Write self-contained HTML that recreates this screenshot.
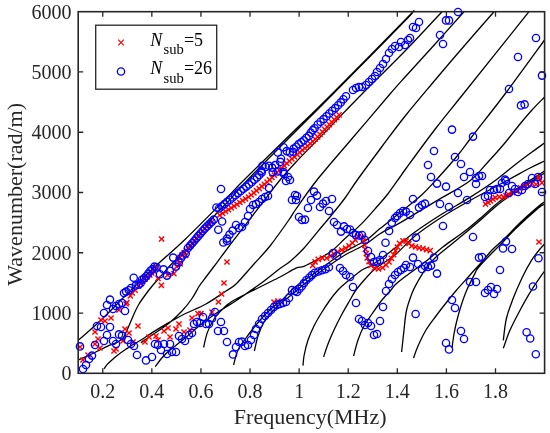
<!DOCTYPE html>
<html><head><meta charset="utf-8"><style>
html,body{margin:0;padding:0;background:#fff;}
svg{display:block;}
.tl{font-family:"Liberation Serif",serif;font-size:20px;fill:#262626;}
.lg{font-family:"Liberation Serif",serif;font-size:18px;fill:#000;}
</style></head><body>
<svg width="550" height="433" viewBox="0 0 550 433">
<rect x="78.2" y="11.7" width="466.40" height="361.60" fill="#fff" stroke="none"/>
<path d="M78.5,340.0C82.1,336.8 91.4,329.2 100.0,321.0C108.6,312.8 120.2,300.7 130.0,291.0C139.8,281.3 149.8,271.6 159.0,263.0C168.2,254.4 173.2,250.8 185.0,239.5C196.8,228.2 219.7,204.9 229.5,195.0C239.3,185.1 232.9,191.0 244.0,180.0C255.1,169.0 281.3,143.3 296.0,129.0C310.7,114.7 313.7,112.3 332.0,94.0C350.3,75.7 392.6,32.7 406.0,19.0C419.4,5.3 411.6,12.9 412.7,11.7M78.5,360.0C81.5,358.6 92.0,353.8 96.8,351.5C101.6,349.2 103.7,347.9 107.2,346.3C110.7,344.7 114.9,343.6 117.6,342.1C120.3,340.6 121.8,339.9 123.5,337.5C125.2,335.1 126.2,331.9 128.0,328.0C129.8,324.1 132.2,318.0 134.0,314.0C135.8,310.0 137.2,307.0 139.0,304.0C140.8,301.0 142.2,299.2 144.5,296.0C146.8,292.8 150.3,288.2 153.0,285.0C155.7,281.8 158.1,279.2 160.5,276.5C162.9,273.8 165.2,271.0 167.5,268.5C169.8,266.0 170.8,264.5 174.0,261.5C177.2,258.5 182.7,254.9 187.0,250.5C191.3,246.1 195.4,240.8 200.0,235.0C204.6,229.2 209.6,221.4 214.6,215.5C219.6,209.6 224.6,205.4 230.0,199.6C235.4,193.8 236.0,191.9 247.0,180.5C258.0,169.1 281.8,145.2 296.0,131.0C310.2,116.8 319.7,107.4 332.0,95.0C344.3,82.6 357.7,69.0 370.0,56.5C382.3,44.0 398.8,27.3 406.0,19.8C413.2,12.3 412.0,13.0 413.2,11.7M140.8,342.8C142.7,341.5 147.6,338.2 152.2,335.0C156.8,331.8 163.3,327.7 168.3,323.7C173.3,319.7 178.1,315.2 182.0,311.0C185.9,306.8 189.1,302.7 192.0,298.5C194.9,294.3 197.0,289.6 199.3,286.0C201.6,282.4 203.5,280.3 206.0,277.0C208.5,273.7 211.3,270.0 214.3,266.0C217.3,262.0 220.8,257.2 224.0,253.0C227.2,248.8 227.3,248.4 233.3,240.6C239.3,232.8 252.2,216.1 260.0,206.0C267.8,195.9 274.0,187.3 280.0,180.0C286.0,172.7 287.7,170.8 296.0,162.0C304.3,153.2 319.0,138.3 330.0,127.0C341.0,115.7 349.3,106.8 362.0,94.0C374.7,81.2 392.7,63.7 406.0,50.0C419.3,36.3 436.0,18.1 442.0,11.7M103.9,368.9C104.5,368.1 106.0,365.7 107.7,363.9C109.4,362.1 112.0,359.9 114.1,358.1C116.2,356.3 118.3,354.6 120.4,353.0C122.5,351.4 124.7,350.0 126.8,348.6C128.9,347.2 131.6,345.4 133.1,344.5C134.6,343.6 134.0,344.2 136.0,343.0C138.0,341.8 142.3,339.2 145.0,337.5C147.7,335.8 148.3,335.0 152.2,332.6C156.1,330.2 162.9,326.0 168.3,322.9C173.7,319.8 178.2,317.1 184.5,314.0C190.8,310.9 199.1,307.8 206.0,304.0C212.9,300.2 221.0,294.3 226.0,291.0C231.0,287.7 231.3,288.5 236.0,284.0C240.7,279.5 248.3,270.3 254.0,264.0C259.7,257.7 264.2,253.3 270.0,246.0C275.8,238.7 284.5,226.2 288.8,220.0C293.1,213.8 291.3,215.7 296.0,209.0C300.7,202.3 308.0,191.3 317.0,180.0C326.0,168.7 337.8,155.3 350.0,141.0C362.2,126.7 380.7,104.8 390.0,94.0C399.3,83.2 398.3,84.5 406.0,76.0C413.7,67.5 426.3,53.7 436.0,43.0C445.7,32.3 459.3,16.9 464.0,11.7M155.2,366.6C156.4,365.1 160.0,360.1 162.3,357.5C164.6,354.9 166.6,352.9 168.8,351.0C171.0,349.1 173.2,347.6 175.3,345.9C177.5,344.2 179.5,342.4 181.7,340.7C183.8,339.0 185.1,338.1 188.2,335.5C191.2,332.9 195.0,329.1 200.0,325.2C205.0,321.3 212.0,316.1 218.0,312.0C224.0,307.9 229.0,305.4 236.0,300.7C243.0,296.0 253.0,289.1 260.0,284.0C267.0,278.9 273.0,273.8 278.0,270.0C283.0,266.2 285.7,265.0 290.0,261.4C294.3,257.8 299.3,253.3 303.9,248.3C308.5,243.3 313.1,237.2 317.7,231.6C322.3,226.0 327.1,220.6 331.6,215.0C336.2,209.4 340.6,204.0 345.0,198.0C349.4,192.0 351.8,187.6 358.0,179.0C364.2,170.4 374.0,157.2 382.0,146.5C390.0,135.8 397.0,126.2 406.0,115.0C415.0,103.8 426.2,90.7 436.0,79.0C445.8,67.3 455.3,56.2 465.0,45.0C474.7,33.8 489.2,17.2 494.0,11.7M203.6,347.5C204.2,345.0 205.6,337.3 207.3,332.6C209.0,327.9 211.6,323.1 213.8,319.5C216.0,315.9 217.4,314.3 220.4,311.3C223.4,308.3 225.2,305.6 231.8,301.5C238.4,297.4 252.0,291.1 260.0,287.0C268.0,282.9 274.0,280.1 280.0,277.0C286.0,273.9 292.0,270.0 296.0,268.2C300.0,266.4 300.3,267.8 303.9,266.3C307.5,264.8 313.1,261.9 317.7,259.3C322.3,256.8 327.1,254.4 331.6,251.0C336.2,247.6 340.1,243.1 345.0,238.6C349.9,234.1 355.8,229.5 361.2,224.1C366.6,218.7 372.9,211.3 377.3,206.3C381.7,201.3 384.0,198.9 387.8,194.0C391.6,189.1 397.0,181.2 400.0,177.0C403.0,172.8 400.0,176.7 406.0,168.5C412.0,160.3 426.3,140.6 436.0,128.0C445.7,115.4 448.5,112.4 464.0,93.0C479.5,73.6 518.2,25.2 529.0,11.7M233.6,365.0C234.3,362.5 235.9,354.5 238.0,350.0C240.1,345.5 243.7,341.3 246.0,338.0C248.3,334.7 249.3,333.3 252.0,330.0C254.7,326.7 258.7,321.7 262.0,318.0C265.3,314.3 268.7,311.0 272.0,308.0C275.3,305.0 278.3,303.3 282.0,300.0C285.7,296.7 289.0,292.2 294.0,288.0C299.0,283.8 306.0,279.3 312.0,275.0C318.0,270.7 324.5,265.9 330.0,262.0C335.5,258.1 339.0,255.2 345.0,251.6C351.0,248.0 360.2,244.1 366.0,240.3C371.8,236.5 374.2,233.3 380.0,228.6C385.8,223.9 393.9,217.6 400.8,212.0C407.7,206.4 415.6,200.5 421.6,195.0C427.6,189.5 430.9,185.7 437.0,179.0C443.1,172.3 452.2,162.1 458.0,155.0C463.8,147.9 464.2,146.7 472.0,136.5C479.8,126.3 492.9,110.1 505.0,94.0C517.1,77.9 538.0,49.0 544.6,40.0M254.4,351.0C255.0,348.5 256.4,340.8 258.0,336.0C259.6,331.2 261.7,326.0 264.0,322.0C266.3,318.0 269.3,315.0 272.0,312.0C274.7,309.0 277.0,306.7 280.0,304.0C283.0,301.3 285.3,299.8 290.0,296.0C294.7,292.2 301.3,286.2 308.0,281.0C314.7,275.8 323.8,269.3 330.0,265.0C336.2,260.7 339.0,258.5 345.0,255.0C351.0,251.5 360.2,247.5 366.0,244.0C371.8,240.5 374.2,237.4 380.0,233.8C385.8,230.2 393.9,226.4 400.8,222.4C407.7,218.4 414.7,214.1 421.6,209.9C428.5,205.7 434.3,202.2 442.4,197.4C450.5,192.6 462.4,186.7 470.0,180.8C477.6,174.9 482.3,168.1 488.0,162.0C493.7,155.9 498.7,150.3 504.0,144.0C509.3,137.7 515.3,129.7 520.0,124.0C524.7,118.3 527.9,114.5 532.0,110.0C536.1,105.5 542.5,99.2 544.6,97.0M303.0,365.6C303.2,364.0 303.2,360.3 304.0,356.0C304.8,351.7 306.3,345.0 308.0,340.0C309.7,335.0 311.7,330.7 314.0,326.0C316.3,321.3 319.3,316.3 322.0,312.0C324.7,307.7 327.3,303.7 330.0,300.0C332.7,296.3 335.0,293.2 338.0,290.0C341.0,286.8 344.0,284.3 348.0,281.0C352.0,277.7 358.0,272.7 362.0,270.0C366.0,267.3 367.3,268.0 372.0,265.0C376.7,262.0 382.8,257.5 390.0,252.0C397.2,246.5 406.3,238.3 415.0,232.0C423.7,225.7 432.8,219.8 442.0,214.0C451.2,208.2 461.0,203.1 470.0,197.4C479.0,191.7 488.3,185.6 496.0,180.0C503.7,174.4 510.0,168.7 516.0,164.0C522.0,159.3 527.2,155.5 532.0,152.0C536.8,148.5 542.5,144.5 544.6,143.0M323.6,357.0C324.3,354.8 326.3,348.5 328.0,344.0C329.7,339.5 331.7,335.0 334.0,330.0C336.3,325.0 339.3,319.0 342.0,314.0C344.7,309.0 347.7,304.0 350.0,300.0C352.3,296.0 353.3,293.7 356.0,290.0C358.7,286.3 362.7,281.7 366.0,278.0C369.3,274.3 371.2,271.8 376.0,268.0C380.8,264.2 388.5,260.3 395.0,255.0C401.5,249.7 407.2,242.3 415.0,236.0C422.8,229.7 432.8,222.9 442.0,217.0C451.2,211.1 459.0,206.7 470.0,200.5C481.0,194.3 498.0,185.4 508.0,180.0C518.0,174.6 523.9,171.2 530.0,168.0C536.1,164.8 542.2,162.2 544.6,161.0M353.6,356.0C354.3,353.3 356.3,345.0 358.0,340.0C359.7,335.0 361.7,330.3 364.0,326.0C366.3,321.7 369.0,318.3 372.0,314.0C375.0,309.7 378.8,304.0 382.0,300.0C385.2,296.0 388.7,292.7 391.0,290.0C393.3,287.3 393.5,286.3 396.0,284.0C398.5,281.7 400.8,279.9 406.0,276.0C411.2,272.1 420.9,265.3 427.0,260.5C433.1,255.7 436.7,251.8 442.8,247.0C448.9,242.2 457.7,236.6 463.9,231.8C470.1,227.1 474.0,223.6 480.0,218.5C486.0,213.4 493.3,206.2 500.0,201.0C506.7,195.8 512.6,192.0 520.0,187.0C527.4,182.0 540.5,173.7 544.6,171.0M401.6,352.0C402.0,348.3 403.2,337.0 404.0,330.0C404.8,323.0 405.2,316.2 406.6,310.0C408.0,303.8 410.4,297.5 412.2,292.8C414.0,288.1 415.8,285.1 417.7,281.7C419.6,278.3 421.8,274.9 423.3,272.5C424.9,270.1 425.1,269.4 427.0,267.0C428.9,264.6 432.0,260.9 435.0,258.0C438.0,255.1 440.2,253.5 445.0,249.5C449.8,245.5 458.1,238.8 463.9,234.0C469.7,229.2 474.0,225.7 480.0,220.5C486.0,215.3 493.3,208.2 500.0,203.0C506.7,197.8 512.6,194.0 520.0,189.0C527.4,184.0 540.5,175.7 544.6,173.0M413.6,358.0C414.3,356.0 415.9,350.7 418.0,346.0C420.1,341.3 423.0,335.0 426.0,330.0C429.0,325.0 432.7,320.5 436.0,316.0C439.3,311.5 442.6,307.3 446.0,303.0C449.4,298.7 452.6,294.7 456.6,290.0C460.6,285.3 466.1,279.4 470.0,275.0C473.9,270.6 476.3,268.1 480.0,263.9C483.7,259.7 488.1,254.1 492.0,250.0C495.9,245.9 498.7,244.2 503.7,239.3C508.7,234.4 516.0,226.6 522.2,220.8C528.4,215.0 537.0,207.7 540.7,204.6C544.4,201.5 544.0,202.4 544.6,202.0M452.0,348.0C452.3,345.7 453.2,338.7 454.0,334.0C454.8,329.3 455.8,324.7 457.0,320.0C458.2,315.3 459.4,311.0 461.0,306.0C462.6,301.0 464.4,295.5 466.8,290.0C469.2,284.5 473.2,276.8 475.1,273.1C477.0,269.4 475.5,271.0 478.0,268.0C480.5,265.0 485.8,259.3 490.0,255.0C494.2,250.7 498.8,246.3 503.0,242.0C507.2,237.7 509.4,234.7 515.3,229.0C521.2,223.3 533.5,212.2 538.4,208.0C543.3,203.8 543.6,204.7 544.6,204.0M503.3,340.4C503.8,336.8 504.8,325.3 506.4,318.5C508.0,311.7 510.1,306.4 512.7,299.6C515.3,292.8 519.0,284.2 522.1,277.7C525.2,271.2 528.4,265.4 531.5,260.4C534.6,255.4 538.8,250.5 541.0,247.8C543.2,245.1 544.0,244.6 544.6,244.0M503.3,348.3C504.4,345.4 507.0,337.0 509.6,331.0C512.2,325.0 515.4,319.0 519.0,312.2C522.6,305.4 527.2,297.1 531.5,290.2C535.8,283.3 542.4,274.2 544.6,271.0" fill="none" stroke="#000" stroke-width="1.3" stroke-linejoin="round"/>
<path d="M175.4,257.4L180.6,262.6M175.4,262.6L180.6,257.4" stroke="#f00" stroke-width="1.45" fill="none"/>
<path d="M177.5,255.0L182.7,260.2M177.5,260.2L182.7,255.0" stroke="#f00" stroke-width="1.45" fill="none"/>
<path d="M179.5,252.5L184.7,257.7M179.5,257.7L184.7,252.5" stroke="#f00" stroke-width="1.45" fill="none"/>
<path d="M181.6,250.1L186.8,255.3M181.6,255.3L186.8,250.1" stroke="#f00" stroke-width="1.45" fill="none"/>
<path d="M183.7,247.7L188.9,252.9M183.7,252.9L188.9,247.7" stroke="#f00" stroke-width="1.45" fill="none"/>
<path d="M185.8,245.2L191.0,250.4M185.8,250.4L191.0,245.2" stroke="#f00" stroke-width="1.45" fill="none"/>
<path d="M187.8,242.8L193.0,248.0M187.8,248.0L193.0,242.8" stroke="#f00" stroke-width="1.45" fill="none"/>
<path d="M189.9,240.3L195.1,245.5M189.9,245.5L195.1,240.3" stroke="#f00" stroke-width="1.45" fill="none"/>
<path d="M192.0,237.9L197.2,243.1M192.0,243.1L197.2,237.9" stroke="#f00" stroke-width="1.45" fill="none"/>
<path d="M194.1,235.5L199.3,240.7M194.1,240.7L199.3,235.5" stroke="#f00" stroke-width="1.45" fill="none"/>
<path d="M196.1,233.0L201.3,238.2M196.1,238.2L201.3,233.0" stroke="#f00" stroke-width="1.45" fill="none"/>
<path d="M198.2,230.6L203.4,235.8M198.2,235.8L203.4,230.6" stroke="#f00" stroke-width="1.45" fill="none"/>
<path d="M200.3,228.2L205.5,233.4M200.3,233.4L205.5,228.2" stroke="#f00" stroke-width="1.45" fill="none"/>
<path d="M202.4,225.7L207.6,230.9M202.4,230.9L207.6,225.7" stroke="#f00" stroke-width="1.45" fill="none"/>
<path d="M204.7,223.6L209.9,228.8M204.7,228.8L209.9,223.6" stroke="#f00" stroke-width="1.45" fill="none"/>
<path d="M207.1,221.4L212.3,226.6M207.1,226.6L212.3,221.4" stroke="#f00" stroke-width="1.45" fill="none"/>
<path d="M209.5,219.3L214.7,224.5M209.5,224.5L214.7,219.3" stroke="#f00" stroke-width="1.45" fill="none"/>
<path d="M217.1,212.5L222.3,217.7M217.1,217.7L222.3,212.5" stroke="#f00" stroke-width="1.45" fill="none"/>
<path d="M220.0,210.7L225.2,215.9M220.0,215.9L225.2,210.7" stroke="#f00" stroke-width="1.45" fill="none"/>
<path d="M222.9,208.9L228.1,214.1M222.9,214.1L228.1,208.9" stroke="#f00" stroke-width="1.45" fill="none"/>
<path d="M225.8,207.1L231.0,212.3M225.8,212.3L231.0,207.1" stroke="#f00" stroke-width="1.45" fill="none"/>
<path d="M228.6,205.3L233.8,210.5M228.6,210.5L233.8,205.3" stroke="#f00" stroke-width="1.45" fill="none"/>
<path d="M231.5,203.5L236.7,208.7M231.5,208.7L236.7,203.5" stroke="#f00" stroke-width="1.45" fill="none"/>
<path d="M234.4,201.7L239.6,206.9M234.4,206.9L239.6,201.7" stroke="#f00" stroke-width="1.45" fill="none"/>
<path d="M237.3,199.9L242.5,205.1M237.3,205.1L242.5,199.9" stroke="#f00" stroke-width="1.45" fill="none"/>
<path d="M240.1,198.0L245.3,203.2M240.1,203.2L245.3,198.0" stroke="#f00" stroke-width="1.45" fill="none"/>
<path d="M243.0,196.2L248.2,201.4M243.0,201.4L248.2,196.2" stroke="#f00" stroke-width="1.45" fill="none"/>
<path d="M245.9,194.4L251.1,199.6M245.9,199.6L251.1,194.4" stroke="#f00" stroke-width="1.45" fill="none"/>
<path d="M248.6,192.4L253.8,197.6M248.6,197.6L253.8,192.4" stroke="#f00" stroke-width="1.45" fill="none"/>
<path d="M251.3,190.3L256.5,195.5M251.3,195.5L256.5,190.3" stroke="#f00" stroke-width="1.45" fill="none"/>
<path d="M253.9,188.1L259.1,193.3M253.9,193.3L259.1,188.1" stroke="#f00" stroke-width="1.45" fill="none"/>
<path d="M256.6,186.0L261.8,191.2M256.6,191.2L261.8,186.0" stroke="#f00" stroke-width="1.45" fill="none"/>
<path d="M259.2,183.8L264.4,189.0M259.2,189.0L264.4,183.8" stroke="#f00" stroke-width="1.45" fill="none"/>
<path d="M261.8,181.7L267.0,186.9M261.8,186.9L267.0,181.7" stroke="#f00" stroke-width="1.45" fill="none"/>
<path d="M264.5,179.6L269.7,184.8M264.5,184.8L269.7,179.6" stroke="#f00" stroke-width="1.45" fill="none"/>
<path d="M267.0,177.3L272.2,182.5M267.0,182.5L272.2,177.3" stroke="#f00" stroke-width="1.45" fill="none"/>
<path d="M269.4,174.9L274.6,180.1M269.4,180.1L274.6,174.9" stroke="#f00" stroke-width="1.45" fill="none"/>
<path d="M271.8,172.5L277.0,177.7M271.8,177.7L277.0,172.5" stroke="#f00" stroke-width="1.45" fill="none"/>
<path d="M274.2,170.1L279.4,175.3M274.2,175.3L279.4,170.1" stroke="#f00" stroke-width="1.45" fill="none"/>
<path d="M276.7,167.8L281.9,173.0M276.7,173.0L281.9,167.8" stroke="#f00" stroke-width="1.45" fill="none"/>
<path d="M279.2,165.4L284.4,170.6M279.2,170.6L284.4,165.4" stroke="#f00" stroke-width="1.45" fill="none"/>
<path d="M281.7,163.1L286.9,168.3M281.7,168.3L286.9,163.1" stroke="#f00" stroke-width="1.45" fill="none"/>
<path d="M284.2,160.8L289.4,166.0M284.2,166.0L289.4,160.8" stroke="#f00" stroke-width="1.45" fill="none"/>
<path d="M286.7,158.6L291.9,163.8M286.7,163.8L291.9,158.6" stroke="#f00" stroke-width="1.45" fill="none"/>
<path d="M289.3,156.3L294.5,161.5M289.3,161.5L294.5,156.3" stroke="#f00" stroke-width="1.45" fill="none"/>
<path d="M291.9,154.2L297.1,159.4M291.9,159.4L297.1,154.2" stroke="#f00" stroke-width="1.45" fill="none"/>
<path d="M294.6,152.1L299.8,157.3M294.6,157.3L299.8,152.1" stroke="#f00" stroke-width="1.45" fill="none"/>
<path d="M297.1,149.8L302.3,155.0M297.1,155.0L302.3,149.8" stroke="#f00" stroke-width="1.45" fill="none"/>
<path d="M299.7,147.6L304.9,152.8M299.7,152.8L304.9,147.6" stroke="#f00" stroke-width="1.45" fill="none"/>
<path d="M302.4,145.6L307.6,150.8M302.4,150.8L307.6,145.6" stroke="#f00" stroke-width="1.45" fill="none"/>
<path d="M305.1,143.5L310.3,148.7M305.1,148.7L310.3,143.5" stroke="#f00" stroke-width="1.45" fill="none"/>
<path d="M307.6,141.1L312.8,146.3M307.6,146.3L312.8,141.1" stroke="#f00" stroke-width="1.45" fill="none"/>
<path d="M310.1,138.8L315.3,144.0M310.1,144.0L315.3,138.8" stroke="#f00" stroke-width="1.45" fill="none"/>
<path d="M312.6,136.5L317.8,141.7M312.6,141.7L317.8,136.5" stroke="#f00" stroke-width="1.45" fill="none"/>
<path d="M315.1,134.2L320.3,139.4M315.1,139.4L320.3,134.2" stroke="#f00" stroke-width="1.45" fill="none"/>
<path d="M317.4,131.8L322.6,137.0M317.4,137.0L322.6,131.8" stroke="#f00" stroke-width="1.45" fill="none"/>
<path d="M319.8,129.3L325.0,134.5M319.8,134.5L325.0,129.3" stroke="#f00" stroke-width="1.45" fill="none"/>
<path d="M322.1,126.8L327.3,132.0M322.1,132.0L327.3,126.8" stroke="#f00" stroke-width="1.45" fill="none"/>
<path d="M324.5,124.4L329.7,129.6M324.5,129.6L329.7,124.4" stroke="#f00" stroke-width="1.45" fill="none"/>
<path d="M326.8,122.0L332.0,127.2M326.8,127.2L332.0,122.0" stroke="#f00" stroke-width="1.45" fill="none"/>
<path d="M329.2,119.6L334.4,124.8M329.2,124.8L334.4,119.6" stroke="#f00" stroke-width="1.45" fill="none"/>
<path d="M331.7,117.1L336.9,122.3M331.7,122.3L336.9,117.1" stroke="#f00" stroke-width="1.45" fill="none"/>
<path d="M334.1,114.7L339.3,119.9M334.1,119.9L339.3,114.7" stroke="#f00" stroke-width="1.45" fill="none"/>
<path d="M336.5,112.3L341.7,117.5M336.5,117.5L341.7,112.3" stroke="#f00" stroke-width="1.45" fill="none"/>
<path d="M77.4,344.4L82.6,349.6M77.4,349.6L82.6,344.4" stroke="#f00" stroke-width="1.45" fill="none"/>
<path d="M80.4,357.4L85.6,362.6M80.4,362.6L85.6,357.4" stroke="#f00" stroke-width="1.45" fill="none"/>
<path d="M85.4,352.4L90.6,357.6M85.4,357.6L90.6,352.4" stroke="#f00" stroke-width="1.45" fill="none"/>
<path d="M92.4,329.4L97.6,334.6M92.4,334.6L97.6,329.4" stroke="#f00" stroke-width="1.45" fill="none"/>
<path d="M95.4,336.4L100.6,341.6M95.4,341.6L100.6,336.4" stroke="#f00" stroke-width="1.45" fill="none"/>
<path d="M98.4,317.4L103.6,322.6M98.4,322.6L103.6,317.4" stroke="#f00" stroke-width="1.45" fill="none"/>
<path d="M102.4,318.4L107.6,323.6M102.4,323.6L107.6,318.4" stroke="#f00" stroke-width="1.45" fill="none"/>
<path d="M108.4,315.4L113.6,320.6M108.4,320.6L113.6,315.4" stroke="#f00" stroke-width="1.45" fill="none"/>
<path d="M116.4,307.4L121.6,312.6M116.4,312.6L121.6,307.4" stroke="#f00" stroke-width="1.45" fill="none"/>
<path d="M123.4,301.4L128.6,306.6M123.4,306.6L128.6,301.4" stroke="#f00" stroke-width="1.45" fill="none"/>
<path d="M92.4,341.4L97.6,346.6M92.4,346.6L97.6,341.4" stroke="#f00" stroke-width="1.45" fill="none"/>
<path d="M97.4,345.4L102.6,350.6M97.4,350.6L102.6,345.4" stroke="#f00" stroke-width="1.45" fill="none"/>
<path d="M111.4,348.4L116.6,353.6M111.4,353.6L116.6,348.4" stroke="#f00" stroke-width="1.45" fill="none"/>
<path d="M113.4,346.4L118.6,351.6M113.4,351.6L118.6,346.4" stroke="#f00" stroke-width="1.45" fill="none"/>
<path d="M122.4,326.4L127.6,331.6M122.4,331.6L127.6,326.4" stroke="#f00" stroke-width="1.45" fill="none"/>
<path d="M126.4,330.4L131.6,335.6M126.4,335.6L131.6,330.4" stroke="#f00" stroke-width="1.45" fill="none"/>
<path d="M120.4,338.4L125.6,343.6M120.4,343.6L125.6,338.4" stroke="#f00" stroke-width="1.45" fill="none"/>
<path d="M130.4,339.4L135.6,344.6M130.4,344.6L135.6,339.4" stroke="#f00" stroke-width="1.45" fill="none"/>
<path d="M135.4,323.4L140.6,328.6M135.4,328.6L140.6,323.4" stroke="#f00" stroke-width="1.45" fill="none"/>
<path d="M142.4,339.4L147.6,344.6M142.4,344.6L147.6,339.4" stroke="#f00" stroke-width="1.45" fill="none"/>
<path d="M146.4,334.4L151.6,339.6M146.4,339.6L151.6,334.4" stroke="#f00" stroke-width="1.45" fill="none"/>
<path d="M153.4,333.4L158.6,338.6M153.4,338.6L158.6,333.4" stroke="#f00" stroke-width="1.45" fill="none"/>
<path d="M161.4,328.4L166.6,333.6M161.4,333.6L166.6,328.4" stroke="#f00" stroke-width="1.45" fill="none"/>
<path d="M165.4,325.4L170.6,330.6M165.4,330.6L170.6,325.4" stroke="#f00" stroke-width="1.45" fill="none"/>
<path d="M167.4,334.4L172.6,339.6M167.4,339.6L172.6,334.4" stroke="#f00" stroke-width="1.45" fill="none"/>
<path d="M173.4,326.4L178.6,331.6M173.4,331.6L178.6,326.4" stroke="#f00" stroke-width="1.45" fill="none"/>
<path d="M176.4,321.4L181.6,326.6M176.4,326.6L181.6,321.4" stroke="#f00" stroke-width="1.45" fill="none"/>
<path d="M181.4,329.4L186.6,334.6M181.4,334.6L186.6,329.4" stroke="#f00" stroke-width="1.45" fill="none"/>
<path d="M155.4,337.4L160.6,342.6M155.4,342.6L160.6,337.4" stroke="#f00" stroke-width="1.45" fill="none"/>
<path d="M124.2,300.1L129.4,305.3M124.2,305.3L129.4,300.1" stroke="#f00" stroke-width="1.45" fill="none"/>
<path d="M127.7,293.2L132.9,298.4M127.7,298.4L132.9,293.2" stroke="#f00" stroke-width="1.45" fill="none"/>
<path d="M129.7,290.4L134.9,295.6M129.7,295.6L134.9,290.4" stroke="#f00" stroke-width="1.45" fill="none"/>
<path d="M132.5,287.6L137.7,292.8M132.5,292.8L137.7,287.6" stroke="#f00" stroke-width="1.45" fill="none"/>
<path d="M136.0,283.4L141.2,288.6M136.0,288.6L141.2,283.4" stroke="#f00" stroke-width="1.45" fill="none"/>
<path d="M138.0,280.7L143.2,285.9M138.0,285.9L143.2,280.7" stroke="#f00" stroke-width="1.45" fill="none"/>
<path d="M140.1,278.6L145.3,283.8M140.1,283.8L145.3,278.6" stroke="#f00" stroke-width="1.45" fill="none"/>
<path d="M142.2,276.5L147.4,281.7M142.2,281.7L147.4,276.5" stroke="#f00" stroke-width="1.45" fill="none"/>
<path d="M144.3,274.4L149.5,279.6M144.3,279.6L149.5,274.4" stroke="#f00" stroke-width="1.45" fill="none"/>
<path d="M147.1,272.4L152.3,277.6M147.1,277.6L152.3,272.4" stroke="#f00" stroke-width="1.45" fill="none"/>
<path d="M149.1,270.3L154.3,275.5M149.1,275.5L154.3,270.3" stroke="#f00" stroke-width="1.45" fill="none"/>
<path d="M151.2,268.2L156.4,273.4M151.2,273.4L156.4,268.2" stroke="#f00" stroke-width="1.45" fill="none"/>
<path d="M154.0,264.7L159.2,269.9M154.0,269.9L159.2,264.7" stroke="#f00" stroke-width="1.45" fill="none"/>
<path d="M155.4,275.8L160.6,281.0M155.4,281.0L160.6,275.8" stroke="#f00" stroke-width="1.45" fill="none"/>
<path d="M158.8,282.8L164.0,288.0M158.8,288.0L164.0,282.8" stroke="#f00" stroke-width="1.45" fill="none"/>
<path d="M165.1,272.4L170.3,277.6M165.1,277.6L170.3,272.4" stroke="#f00" stroke-width="1.45" fill="none"/>
<path d="M171.3,271.0L176.5,276.2M171.3,276.2L176.5,271.0" stroke="#f00" stroke-width="1.45" fill="none"/>
<path d="M174.1,264.0L179.3,269.2M174.1,269.2L179.3,264.0" stroke="#f00" stroke-width="1.45" fill="none"/>
<path d="M177.6,261.3L182.8,266.5M177.6,266.5L182.8,261.3" stroke="#f00" stroke-width="1.45" fill="none"/>
<path d="M183.1,252.9L188.3,258.1M183.1,258.1L188.3,252.9" stroke="#f00" stroke-width="1.45" fill="none"/>
<path d="M221.4,280.4L226.6,285.6M221.4,285.6L226.6,280.4" stroke="#f00" stroke-width="1.45" fill="none"/>
<path d="M219.0,291.4L224.2,296.6M219.0,296.6L224.2,291.4" stroke="#f00" stroke-width="1.45" fill="none"/>
<path d="M215.8,299.4L221.0,304.6M215.8,304.6L221.0,299.4" stroke="#f00" stroke-width="1.45" fill="none"/>
<path d="M195.4,311.0L200.6,316.2M195.4,316.2L200.6,311.0" stroke="#f00" stroke-width="1.45" fill="none"/>
<path d="M198.4,311.0L203.6,316.2M198.4,316.2L203.6,311.0" stroke="#f00" stroke-width="1.45" fill="none"/>
<path d="M189.4,315.4L194.6,320.6M189.4,320.6L194.6,315.4" stroke="#f00" stroke-width="1.45" fill="none"/>
<path d="M209.4,309.4L214.6,314.6M209.4,314.6L214.6,309.4" stroke="#f00" stroke-width="1.45" fill="none"/>
<path d="M187.4,327.4L192.6,332.6M187.4,332.6L192.6,327.4" stroke="#f00" stroke-width="1.45" fill="none"/>
<path d="M271.4,299.4L276.6,304.6M271.4,304.6L276.6,299.4" stroke="#f00" stroke-width="1.45" fill="none"/>
<path d="M275.4,298.4L280.6,303.6M275.4,303.6L280.6,298.4" stroke="#f00" stroke-width="1.45" fill="none"/>
<path d="M224.4,259.4L229.6,264.6M224.4,264.6L229.6,259.4" stroke="#f00" stroke-width="1.45" fill="none"/>
<path d="M159.0,236.4L164.2,241.6M159.0,241.6L164.2,236.4" stroke="#f00" stroke-width="1.45" fill="none"/>
<path d="M310.1,262.9L315.3,268.1M310.1,268.1L315.3,262.9" stroke="#f00" stroke-width="1.45" fill="none"/>
<path d="M312.5,259.3L317.7,264.5M312.5,264.5L317.7,259.3" stroke="#f00" stroke-width="1.45" fill="none"/>
<path d="M315.7,256.8L320.9,262.0M315.7,262.0L320.9,256.8" stroke="#f00" stroke-width="1.45" fill="none"/>
<path d="M319.8,255.6L325.0,260.8M319.8,260.8L325.0,255.6" stroke="#f00" stroke-width="1.45" fill="none"/>
<path d="M324.1,255.6L329.3,260.8M324.1,260.8L329.3,255.6" stroke="#f00" stroke-width="1.45" fill="none"/>
<path d="M327.8,253.6L333.0,258.8M327.8,258.8L333.0,253.6" stroke="#f00" stroke-width="1.45" fill="none"/>
<path d="M331.4,251.3L336.6,256.5M331.4,256.5L336.6,251.3" stroke="#f00" stroke-width="1.45" fill="none"/>
<path d="M335.2,249.3L340.4,254.5M335.2,254.5L340.4,249.3" stroke="#f00" stroke-width="1.45" fill="none"/>
<path d="M339.1,247.4L344.3,252.6M339.1,252.6L344.3,247.4" stroke="#f00" stroke-width="1.45" fill="none"/>
<path d="M343.0,245.6L348.2,250.8M343.0,250.8L348.2,245.6" stroke="#f00" stroke-width="1.45" fill="none"/>
<path d="M346.5,243.2L351.7,248.4M346.5,248.4L351.7,243.2" stroke="#f00" stroke-width="1.45" fill="none"/>
<path d="M349.8,240.4L355.0,245.6M349.8,245.6L355.0,240.4" stroke="#f00" stroke-width="1.45" fill="none"/>
<path d="M352.6,237.2L357.8,242.4M352.6,242.4L357.8,237.2" stroke="#f00" stroke-width="1.45" fill="none"/>
<path d="M355.5,233.9L360.7,239.1M355.5,239.1L360.7,233.9" stroke="#f00" stroke-width="1.45" fill="none"/>
<path d="M359.6,234.6L364.8,239.8M359.6,239.8L364.8,234.6" stroke="#f00" stroke-width="1.45" fill="none"/>
<path d="M361.2,238.4L366.4,243.6M361.2,243.6L366.4,238.4" stroke="#f00" stroke-width="1.45" fill="none"/>
<path d="M362.1,242.6L367.3,247.8M362.1,247.8L367.3,242.6" stroke="#f00" stroke-width="1.45" fill="none"/>
<path d="M362.8,246.8L368.0,252.0M362.8,252.0L368.0,246.8" stroke="#f00" stroke-width="1.45" fill="none"/>
<path d="M363.7,251.0L368.9,256.2M363.7,256.2L368.9,251.0" stroke="#f00" stroke-width="1.45" fill="none"/>
<path d="M364.6,255.2L369.8,260.4M364.6,260.4L369.8,255.2" stroke="#f00" stroke-width="1.45" fill="none"/>
<path d="M366.4,259.1L371.6,264.3M366.4,264.3L371.6,259.1" stroke="#f00" stroke-width="1.45" fill="none"/>
<path d="M368.3,262.9L373.5,268.1M368.3,268.1L373.5,262.9" stroke="#f00" stroke-width="1.45" fill="none"/>
<path d="M371.8,265.5L377.0,270.7M371.8,270.7L377.0,265.5" stroke="#f00" stroke-width="1.45" fill="none"/>
<path d="M375.9,266.4L381.1,271.6M375.9,271.6L381.1,266.4" stroke="#f00" stroke-width="1.45" fill="none"/>
<path d="M380.0,265.0L385.2,270.2M380.0,270.2L385.2,265.0" stroke="#f00" stroke-width="1.45" fill="none"/>
<path d="M383.4,262.4L388.6,267.6M383.4,267.6L388.6,262.4" stroke="#f00" stroke-width="1.45" fill="none"/>
<path d="M386.4,259.3L391.6,264.5M386.4,264.5L391.6,259.3" stroke="#f00" stroke-width="1.45" fill="none"/>
<path d="M388.8,255.8L394.0,261.0M388.8,261.0L394.0,255.8" stroke="#f00" stroke-width="1.45" fill="none"/>
<path d="M391.0,252.1L396.2,257.3M391.0,257.3L396.2,252.1" stroke="#f00" stroke-width="1.45" fill="none"/>
<path d="M392.9,248.3L398.1,253.5M392.9,253.5L398.1,248.3" stroke="#f00" stroke-width="1.45" fill="none"/>
<path d="M394.8,244.4L400.0,249.6M394.8,249.6L400.0,244.4" stroke="#f00" stroke-width="1.45" fill="none"/>
<path d="M396.9,240.7L402.1,245.9M396.9,245.9L402.1,240.7" stroke="#f00" stroke-width="1.45" fill="none"/>
<path d="M400.4,238.2L405.6,243.4M400.4,243.4L405.6,238.2" stroke="#f00" stroke-width="1.45" fill="none"/>
<path d="M403.4,238.4L408.6,243.6M403.4,243.6L408.6,238.4" stroke="#f00" stroke-width="1.45" fill="none"/>
<path d="M406.3,240.9L411.5,246.1M406.3,246.1L411.5,240.9" stroke="#f00" stroke-width="1.45" fill="none"/>
<path d="M409.2,243.3L414.4,248.5M409.2,248.5L414.4,243.3" stroke="#f00" stroke-width="1.45" fill="none"/>
<path d="M412.9,244.3L418.1,249.5M412.9,249.5L418.1,244.3" stroke="#f00" stroke-width="1.45" fill="none"/>
<path d="M416.6,245.2L421.8,250.4M416.6,250.4L421.8,245.2" stroke="#f00" stroke-width="1.45" fill="none"/>
<path d="M420.3,246.1L425.5,251.3M420.3,251.3L425.5,246.1" stroke="#f00" stroke-width="1.45" fill="none"/>
<path d="M423.9,247.0L429.1,252.2M423.9,252.2L429.1,247.0" stroke="#f00" stroke-width="1.45" fill="none"/>
<path d="M427.6,248.1L432.8,253.3M427.6,253.3L432.8,248.1" stroke="#f00" stroke-width="1.45" fill="none"/>
<path d="M482.9,201.6L488.1,206.8M482.9,206.8L488.1,201.6" stroke="#f00" stroke-width="1.45" fill="none"/>
<path d="M485.4,199.9L490.6,205.1M485.4,205.1L490.6,199.9" stroke="#f00" stroke-width="1.45" fill="none"/>
<path d="M487.8,198.3L493.0,203.5M487.8,203.5L493.0,198.3" stroke="#f00" stroke-width="1.45" fill="none"/>
<path d="M490.4,196.6L495.6,201.8M490.4,201.8L495.6,196.6" stroke="#f00" stroke-width="1.45" fill="none"/>
<path d="M492.7,195.0L497.9,200.2M492.7,200.2L497.9,195.0" stroke="#f00" stroke-width="1.45" fill="none"/>
<path d="M496.8,194.2L502.0,199.4M496.8,199.4L502.0,194.2" stroke="#f00" stroke-width="1.45" fill="none"/>
<path d="M500.9,194.2L506.1,199.4M500.9,199.4L506.1,194.2" stroke="#f00" stroke-width="1.45" fill="none"/>
<path d="M503.4,192.9L508.6,198.1M503.4,198.1L508.6,192.9" stroke="#f00" stroke-width="1.45" fill="none"/>
<path d="M505.8,191.8L511.0,197.0M505.8,197.0L511.0,191.8" stroke="#f00" stroke-width="1.45" fill="none"/>
<path d="M509.9,190.1L515.1,195.3M509.9,195.3L515.1,190.1" stroke="#f00" stroke-width="1.45" fill="none"/>
<path d="M514.0,188.5L519.2,193.7M514.0,193.7L519.2,188.5" stroke="#f00" stroke-width="1.45" fill="none"/>
<path d="M518.0,185.2L523.2,190.4M518.0,190.4L523.2,185.2" stroke="#f00" stroke-width="1.45" fill="none"/>
<path d="M522.1,183.6L527.3,188.8M522.1,188.8L527.3,183.6" stroke="#f00" stroke-width="1.45" fill="none"/>
<path d="M525.4,181.9L530.6,187.1M525.4,187.1L530.6,181.9" stroke="#f00" stroke-width="1.45" fill="none"/>
<path d="M529.5,181.1L534.7,186.3M529.5,186.3L534.7,181.1" stroke="#f00" stroke-width="1.45" fill="none"/>
<path d="M533.6,181.9L538.8,187.1M533.6,187.1L538.8,181.9" stroke="#f00" stroke-width="1.45" fill="none"/>
<path d="M536.9,177.0L542.1,182.2M536.9,182.2L542.1,177.0" stroke="#f00" stroke-width="1.45" fill="none"/>
<path d="M539.3,180.3L544.5,185.5M539.3,185.5L544.5,180.3" stroke="#f00" stroke-width="1.45" fill="none"/>
<path d="M536.4,239.4L541.6,244.6M536.4,244.6L541.6,239.4" stroke="#f00" stroke-width="1.45" fill="none"/>
<path d="M536.4,175.0L541.6,180.2M536.4,180.2L541.6,175.0" stroke="#f00" stroke-width="1.45" fill="none"/>
<circle cx="188.0" cy="248.0" r="3.65" stroke="#00f" stroke-width="1.35" fill="none"/>
<circle cx="190.1" cy="245.6" r="3.65" stroke="#00f" stroke-width="1.35" fill="none"/>
<circle cx="192.2" cy="243.2" r="3.65" stroke="#00f" stroke-width="1.35" fill="none"/>
<circle cx="194.3" cy="240.7" r="3.65" stroke="#00f" stroke-width="1.35" fill="none"/>
<circle cx="196.4" cy="238.3" r="3.65" stroke="#00f" stroke-width="1.35" fill="none"/>
<circle cx="198.4" cy="235.9" r="3.65" stroke="#00f" stroke-width="1.35" fill="none"/>
<circle cx="200.5" cy="233.5" r="3.65" stroke="#00f" stroke-width="1.35" fill="none"/>
<circle cx="202.6" cy="231.0" r="3.65" stroke="#00f" stroke-width="1.35" fill="none"/>
<circle cx="204.7" cy="228.6" r="3.65" stroke="#00f" stroke-width="1.35" fill="none"/>
<circle cx="207.0" cy="226.4" r="3.65" stroke="#00f" stroke-width="1.35" fill="none"/>
<circle cx="209.3" cy="224.1" r="3.65" stroke="#00f" stroke-width="1.35" fill="none"/>
<circle cx="211.6" cy="221.9" r="3.65" stroke="#00f" stroke-width="1.35" fill="none"/>
<circle cx="213.8" cy="219.6" r="3.65" stroke="#00f" stroke-width="1.35" fill="none"/>
<circle cx="216.4" cy="207.5" r="3.65" stroke="#00f" stroke-width="1.35" fill="none"/>
<circle cx="218.3" cy="229.8" r="3.65" stroke="#00f" stroke-width="1.35" fill="none"/>
<circle cx="222.1" cy="221.5" r="3.65" stroke="#00f" stroke-width="1.35" fill="none"/>
<circle cx="223.3" cy="242.5" r="3.65" stroke="#00f" stroke-width="1.35" fill="none"/>
<circle cx="219.0" cy="208.5" r="3.65" stroke="#00f" stroke-width="1.35" fill="none"/>
<circle cx="221.7" cy="206.3" r="3.65" stroke="#00f" stroke-width="1.35" fill="none"/>
<circle cx="224.4" cy="204.1" r="3.65" stroke="#00f" stroke-width="1.35" fill="none"/>
<circle cx="227.1" cy="201.9" r="3.65" stroke="#00f" stroke-width="1.35" fill="none"/>
<circle cx="229.9" cy="199.7" r="3.65" stroke="#00f" stroke-width="1.35" fill="none"/>
<circle cx="232.6" cy="197.5" r="3.65" stroke="#00f" stroke-width="1.35" fill="none"/>
<circle cx="235.3" cy="195.3" r="3.65" stroke="#00f" stroke-width="1.35" fill="none"/>
<circle cx="238.0" cy="193.1" r="3.65" stroke="#00f" stroke-width="1.35" fill="none"/>
<circle cx="240.8" cy="190.9" r="3.65" stroke="#00f" stroke-width="1.35" fill="none"/>
<circle cx="243.5" cy="188.7" r="3.65" stroke="#00f" stroke-width="1.35" fill="none"/>
<circle cx="246.3" cy="186.6" r="3.65" stroke="#00f" stroke-width="1.35" fill="none"/>
<circle cx="249.0" cy="184.4" r="3.65" stroke="#00f" stroke-width="1.35" fill="none"/>
<circle cx="251.7" cy="182.2" r="3.65" stroke="#00f" stroke-width="1.35" fill="none"/>
<circle cx="254.3" cy="179.8" r="3.65" stroke="#00f" stroke-width="1.35" fill="none"/>
<circle cx="257.0" cy="177.5" r="3.65" stroke="#00f" stroke-width="1.35" fill="none"/>
<circle cx="259.3" cy="174.9" r="3.65" stroke="#00f" stroke-width="1.35" fill="none"/>
<circle cx="261.7" cy="172.4" r="3.65" stroke="#00f" stroke-width="1.35" fill="none"/>
<circle cx="262.5" cy="165.7" r="3.65" stroke="#00f" stroke-width="1.35" fill="none"/>
<circle cx="265.7" cy="167.0" r="3.65" stroke="#00f" stroke-width="1.35" fill="none"/>
<circle cx="268.9" cy="165.7" r="3.65" stroke="#00f" stroke-width="1.35" fill="none"/>
<circle cx="272.1" cy="167.6" r="3.65" stroke="#00f" stroke-width="1.35" fill="none"/>
<circle cx="275.2" cy="165.1" r="3.65" stroke="#00f" stroke-width="1.35" fill="none"/>
<circle cx="277.8" cy="152.4" r="3.65" stroke="#00f" stroke-width="1.35" fill="none"/>
<circle cx="280.3" cy="161.9" r="3.65" stroke="#00f" stroke-width="1.35" fill="none"/>
<circle cx="281.0" cy="158.7" r="3.65" stroke="#00f" stroke-width="1.35" fill="none"/>
<circle cx="283.5" cy="147.3" r="3.65" stroke="#00f" stroke-width="1.35" fill="none"/>
<circle cx="286.7" cy="151.1" r="3.65" stroke="#00f" stroke-width="1.35" fill="none"/>
<circle cx="289.8" cy="152.4" r="3.65" stroke="#00f" stroke-width="1.35" fill="none"/>
<circle cx="293.0" cy="151.8" r="3.65" stroke="#00f" stroke-width="1.35" fill="none"/>
<circle cx="293.7" cy="148.6" r="3.65" stroke="#00f" stroke-width="1.35" fill="none"/>
<circle cx="296.2" cy="146.7" r="3.65" stroke="#00f" stroke-width="1.35" fill="none"/>
<circle cx="298.7" cy="144.1" r="3.65" stroke="#00f" stroke-width="1.35" fill="none"/>
<circle cx="301.3" cy="142.2" r="3.65" stroke="#00f" stroke-width="1.35" fill="none"/>
<circle cx="303.8" cy="140.3" r="3.65" stroke="#00f" stroke-width="1.35" fill="none"/>
<circle cx="306.4" cy="137.8" r="3.65" stroke="#00f" stroke-width="1.35" fill="none"/>
<circle cx="308.9" cy="135.9" r="3.65" stroke="#00f" stroke-width="1.35" fill="none"/>
<circle cx="310.8" cy="132.7" r="3.65" stroke="#00f" stroke-width="1.35" fill="none"/>
<circle cx="312.7" cy="130.2" r="3.65" stroke="#00f" stroke-width="1.35" fill="none"/>
<circle cx="314.6" cy="128.3" r="3.65" stroke="#00f" stroke-width="1.35" fill="none"/>
<circle cx="261.3" cy="170.8" r="3.65" stroke="#00f" stroke-width="1.35" fill="none"/>
<circle cx="272.7" cy="172.1" r="3.65" stroke="#00f" stroke-width="1.35" fill="none"/>
<circle cx="277.8" cy="171.4" r="3.65" stroke="#00f" stroke-width="1.35" fill="none"/>
<circle cx="283.5" cy="172.1" r="3.65" stroke="#00f" stroke-width="1.35" fill="none"/>
<circle cx="317.7" cy="124.5" r="3.65" stroke="#00f" stroke-width="1.35" fill="none"/>
<circle cx="320.6" cy="121.8" r="3.65" stroke="#00f" stroke-width="1.35" fill="none"/>
<circle cx="323.6" cy="119.1" r="3.65" stroke="#00f" stroke-width="1.35" fill="none"/>
<circle cx="326.5" cy="116.3" r="3.65" stroke="#00f" stroke-width="1.35" fill="none"/>
<circle cx="329.3" cy="113.5" r="3.65" stroke="#00f" stroke-width="1.35" fill="none"/>
<circle cx="332.2" cy="110.8" r="3.65" stroke="#00f" stroke-width="1.35" fill="none"/>
<circle cx="335.2" cy="108.1" r="3.65" stroke="#00f" stroke-width="1.35" fill="none"/>
<circle cx="338.1" cy="105.3" r="3.65" stroke="#00f" stroke-width="1.35" fill="none"/>
<circle cx="340.8" cy="102.4" r="3.65" stroke="#00f" stroke-width="1.35" fill="none"/>
<circle cx="343.4" cy="99.3" r="3.65" stroke="#00f" stroke-width="1.35" fill="none"/>
<circle cx="346.0" cy="96.3" r="3.65" stroke="#00f" stroke-width="1.35" fill="none"/>
<circle cx="353.0" cy="90.0" r="3.65" stroke="#00f" stroke-width="1.35" fill="none"/>
<circle cx="356.0" cy="88.0" r="3.65" stroke="#00f" stroke-width="1.35" fill="none"/>
<circle cx="359.0" cy="87.0" r="3.65" stroke="#00f" stroke-width="1.35" fill="none"/>
<circle cx="362.0" cy="87.0" r="3.65" stroke="#00f" stroke-width="1.35" fill="none"/>
<circle cx="366.0" cy="85.0" r="3.65" stroke="#00f" stroke-width="1.35" fill="none"/>
<circle cx="369.0" cy="82.0" r="3.65" stroke="#00f" stroke-width="1.35" fill="none"/>
<circle cx="372.0" cy="79.0" r="3.65" stroke="#00f" stroke-width="1.35" fill="none"/>
<circle cx="375.0" cy="76.0" r="3.65" stroke="#00f" stroke-width="1.35" fill="none"/>
<circle cx="377.0" cy="72.0" r="3.65" stroke="#00f" stroke-width="1.35" fill="none"/>
<circle cx="380.0" cy="68.0" r="3.65" stroke="#00f" stroke-width="1.35" fill="none"/>
<circle cx="383.0" cy="64.0" r="3.65" stroke="#00f" stroke-width="1.35" fill="none"/>
<circle cx="386.0" cy="59.0" r="3.65" stroke="#00f" stroke-width="1.35" fill="none"/>
<circle cx="389.0" cy="53.0" r="3.65" stroke="#00f" stroke-width="1.35" fill="none"/>
<circle cx="392.0" cy="49.0" r="3.65" stroke="#00f" stroke-width="1.35" fill="none"/>
<circle cx="395.0" cy="46.0" r="3.65" stroke="#00f" stroke-width="1.35" fill="none"/>
<circle cx="399.0" cy="47.0" r="3.65" stroke="#00f" stroke-width="1.35" fill="none"/>
<circle cx="401.0" cy="42.0" r="3.65" stroke="#00f" stroke-width="1.35" fill="none"/>
<circle cx="405.0" cy="45.0" r="3.65" stroke="#00f" stroke-width="1.35" fill="none"/>
<circle cx="408.0" cy="40.0" r="3.65" stroke="#00f" stroke-width="1.35" fill="none"/>
<circle cx="410.0" cy="38.0" r="3.65" stroke="#00f" stroke-width="1.35" fill="none"/>
<circle cx="413.0" cy="27.0" r="3.65" stroke="#00f" stroke-width="1.35" fill="none"/>
<circle cx="416.0" cy="28.0" r="3.65" stroke="#00f" stroke-width="1.35" fill="none"/>
<circle cx="419.0" cy="22.0" r="3.65" stroke="#00f" stroke-width="1.35" fill="none"/>
<circle cx="80.0" cy="346.4" r="3.65" stroke="#00f" stroke-width="1.35" fill="none"/>
<circle cx="83.0" cy="369.0" r="3.65" stroke="#00f" stroke-width="1.35" fill="none"/>
<circle cx="86.0" cy="365.0" r="3.65" stroke="#00f" stroke-width="1.35" fill="none"/>
<circle cx="89.0" cy="359.0" r="3.65" stroke="#00f" stroke-width="1.35" fill="none"/>
<circle cx="92.0" cy="355.6" r="3.65" stroke="#00f" stroke-width="1.35" fill="none"/>
<circle cx="95.0" cy="345.0" r="3.65" stroke="#00f" stroke-width="1.35" fill="none"/>
<circle cx="97.0" cy="326.0" r="3.65" stroke="#00f" stroke-width="1.35" fill="none"/>
<circle cx="101.0" cy="327.0" r="3.65" stroke="#00f" stroke-width="1.35" fill="none"/>
<circle cx="107.0" cy="335.0" r="3.65" stroke="#00f" stroke-width="1.35" fill="none"/>
<circle cx="104.0" cy="341.0" r="3.65" stroke="#00f" stroke-width="1.35" fill="none"/>
<circle cx="110.0" cy="327.0" r="3.65" stroke="#00f" stroke-width="1.35" fill="none"/>
<circle cx="104.0" cy="313.0" r="3.65" stroke="#00f" stroke-width="1.35" fill="none"/>
<circle cx="107.0" cy="305.0" r="3.65" stroke="#00f" stroke-width="1.35" fill="none"/>
<circle cx="110.0" cy="299.6" r="3.65" stroke="#00f" stroke-width="1.35" fill="none"/>
<circle cx="113.0" cy="309.0" r="3.65" stroke="#00f" stroke-width="1.35" fill="none"/>
<circle cx="116.0" cy="306.0" r="3.65" stroke="#00f" stroke-width="1.35" fill="none"/>
<circle cx="119.0" cy="304.0" r="3.65" stroke="#00f" stroke-width="1.35" fill="none"/>
<circle cx="122.0" cy="303.0" r="3.65" stroke="#00f" stroke-width="1.35" fill="none"/>
<circle cx="125.0" cy="311.0" r="3.65" stroke="#00f" stroke-width="1.35" fill="none"/>
<circle cx="113.0" cy="341.0" r="3.65" stroke="#00f" stroke-width="1.35" fill="none"/>
<circle cx="116.0" cy="344.0" r="3.65" stroke="#00f" stroke-width="1.35" fill="none"/>
<circle cx="119.0" cy="334.4" r="3.65" stroke="#00f" stroke-width="1.35" fill="none"/>
<circle cx="122.0" cy="335.6" r="3.65" stroke="#00f" stroke-width="1.35" fill="none"/>
<circle cx="128.0" cy="340.0" r="3.65" stroke="#00f" stroke-width="1.35" fill="none"/>
<circle cx="131.0" cy="344.0" r="3.65" stroke="#00f" stroke-width="1.35" fill="none"/>
<circle cx="134.0" cy="346.0" r="3.65" stroke="#00f" stroke-width="1.35" fill="none"/>
<circle cx="137.0" cy="355.0" r="3.65" stroke="#00f" stroke-width="1.35" fill="none"/>
<circle cx="146.0" cy="360.4" r="3.65" stroke="#00f" stroke-width="1.35" fill="none"/>
<circle cx="152.0" cy="357.0" r="3.65" stroke="#00f" stroke-width="1.35" fill="none"/>
<circle cx="155.0" cy="344.0" r="3.65" stroke="#00f" stroke-width="1.35" fill="none"/>
<circle cx="158.0" cy="345.0" r="3.65" stroke="#00f" stroke-width="1.35" fill="none"/>
<circle cx="164.0" cy="344.0" r="3.65" stroke="#00f" stroke-width="1.35" fill="none"/>
<circle cx="170.0" cy="344.0" r="3.65" stroke="#00f" stroke-width="1.35" fill="none"/>
<circle cx="161.0" cy="350.0" r="3.65" stroke="#00f" stroke-width="1.35" fill="none"/>
<circle cx="167.0" cy="354.0" r="3.65" stroke="#00f" stroke-width="1.35" fill="none"/>
<circle cx="172.0" cy="352.0" r="3.65" stroke="#00f" stroke-width="1.35" fill="none"/>
<circle cx="176.0" cy="352.0" r="3.65" stroke="#00f" stroke-width="1.35" fill="none"/>
<circle cx="179.0" cy="336.0" r="3.65" stroke="#00f" stroke-width="1.35" fill="none"/>
<circle cx="182.0" cy="339.0" r="3.65" stroke="#00f" stroke-width="1.35" fill="none"/>
<circle cx="185.0" cy="341.0" r="3.65" stroke="#00f" stroke-width="1.35" fill="none"/>
<circle cx="124.0" cy="293.0" r="3.65" stroke="#00f" stroke-width="1.35" fill="none"/>
<circle cx="126.1" cy="291.6" r="3.65" stroke="#00f" stroke-width="1.35" fill="none"/>
<circle cx="128.9" cy="290.2" r="3.65" stroke="#00f" stroke-width="1.35" fill="none"/>
<circle cx="131.0" cy="288.0" r="3.65" stroke="#00f" stroke-width="1.35" fill="none"/>
<circle cx="133.7" cy="277.7" r="3.65" stroke="#00f" stroke-width="1.35" fill="none"/>
<circle cx="135.8" cy="285.4" r="3.65" stroke="#00f" stroke-width="1.35" fill="none"/>
<circle cx="138.6" cy="284.7" r="3.65" stroke="#00f" stroke-width="1.35" fill="none"/>
<circle cx="140.6" cy="283.3" r="3.65" stroke="#00f" stroke-width="1.35" fill="none"/>
<circle cx="142.0" cy="279.8" r="3.65" stroke="#00f" stroke-width="1.35" fill="none"/>
<circle cx="144.1" cy="278.4" r="3.65" stroke="#00f" stroke-width="1.35" fill="none"/>
<circle cx="146.2" cy="276.3" r="3.65" stroke="#00f" stroke-width="1.35" fill="none"/>
<circle cx="148.3" cy="273.6" r="3.65" stroke="#00f" stroke-width="1.35" fill="none"/>
<circle cx="150.4" cy="270.8" r="3.65" stroke="#00f" stroke-width="1.35" fill="none"/>
<circle cx="152.4" cy="269.4" r="3.65" stroke="#00f" stroke-width="1.35" fill="none"/>
<circle cx="154.5" cy="266.6" r="3.65" stroke="#00f" stroke-width="1.35" fill="none"/>
<circle cx="156.6" cy="267.3" r="3.65" stroke="#00f" stroke-width="1.35" fill="none"/>
<circle cx="160.0" cy="274.3" r="3.65" stroke="#00f" stroke-width="1.35" fill="none"/>
<circle cx="163.5" cy="269.4" r="3.65" stroke="#00f" stroke-width="1.35" fill="none"/>
<circle cx="167.0" cy="275.6" r="3.65" stroke="#00f" stroke-width="1.35" fill="none"/>
<circle cx="169.8" cy="270.8" r="3.65" stroke="#00f" stroke-width="1.35" fill="none"/>
<circle cx="173.2" cy="257.6" r="3.65" stroke="#00f" stroke-width="1.35" fill="none"/>
<circle cx="176.0" cy="266.6" r="3.65" stroke="#00f" stroke-width="1.35" fill="none"/>
<circle cx="178.8" cy="262.5" r="3.65" stroke="#00f" stroke-width="1.35" fill="none"/>
<circle cx="180.9" cy="258.3" r="3.65" stroke="#00f" stroke-width="1.35" fill="none"/>
<circle cx="182.9" cy="255.5" r="3.65" stroke="#00f" stroke-width="1.35" fill="none"/>
<circle cx="185.7" cy="253.5" r="3.65" stroke="#00f" stroke-width="1.35" fill="none"/>
<circle cx="189.0" cy="335.0" r="3.65" stroke="#00f" stroke-width="1.35" fill="none"/>
<circle cx="192.0" cy="333.0" r="3.65" stroke="#00f" stroke-width="1.35" fill="none"/>
<circle cx="194.0" cy="324.0" r="3.65" stroke="#00f" stroke-width="1.35" fill="none"/>
<circle cx="197.0" cy="322.0" r="3.65" stroke="#00f" stroke-width="1.35" fill="none"/>
<circle cx="200.0" cy="323.0" r="3.65" stroke="#00f" stroke-width="1.35" fill="none"/>
<circle cx="203.0" cy="317.0" r="3.65" stroke="#00f" stroke-width="1.35" fill="none"/>
<circle cx="206.0" cy="324.0" r="3.65" stroke="#00f" stroke-width="1.35" fill="none"/>
<circle cx="209.0" cy="324.0" r="3.65" stroke="#00f" stroke-width="1.35" fill="none"/>
<circle cx="212.0" cy="318.4" r="3.65" stroke="#00f" stroke-width="1.35" fill="none"/>
<circle cx="215.0" cy="312.0" r="3.65" stroke="#00f" stroke-width="1.35" fill="none"/>
<circle cx="221.0" cy="322.0" r="3.65" stroke="#00f" stroke-width="1.35" fill="none"/>
<circle cx="218.0" cy="331.0" r="3.65" stroke="#00f" stroke-width="1.35" fill="none"/>
<circle cx="224.0" cy="331.0" r="3.65" stroke="#00f" stroke-width="1.35" fill="none"/>
<circle cx="227.0" cy="342.0" r="3.65" stroke="#00f" stroke-width="1.35" fill="none"/>
<circle cx="233.0" cy="354.4" r="3.65" stroke="#00f" stroke-width="1.35" fill="none"/>
<circle cx="236.0" cy="347.0" r="3.65" stroke="#00f" stroke-width="1.35" fill="none"/>
<circle cx="239.0" cy="342.0" r="3.65" stroke="#00f" stroke-width="1.35" fill="none"/>
<circle cx="242.0" cy="341.6" r="3.65" stroke="#00f" stroke-width="1.35" fill="none"/>
<circle cx="245.0" cy="346.0" r="3.65" stroke="#00f" stroke-width="1.35" fill="none"/>
<circle cx="248.0" cy="345.0" r="3.65" stroke="#00f" stroke-width="1.35" fill="none"/>
<circle cx="251.0" cy="340.0" r="3.65" stroke="#00f" stroke-width="1.35" fill="none"/>
<circle cx="254.0" cy="335.0" r="3.65" stroke="#00f" stroke-width="1.35" fill="none"/>
<circle cx="256.0" cy="329.0" r="3.65" stroke="#00f" stroke-width="1.35" fill="none"/>
<circle cx="259.0" cy="324.0" r="3.65" stroke="#00f" stroke-width="1.35" fill="none"/>
<circle cx="262.0" cy="319.0" r="3.65" stroke="#00f" stroke-width="1.35" fill="none"/>
<circle cx="265.0" cy="316.0" r="3.65" stroke="#00f" stroke-width="1.35" fill="none"/>
<circle cx="268.0" cy="313.0" r="3.65" stroke="#00f" stroke-width="1.35" fill="none"/>
<circle cx="271.0" cy="310.0" r="3.65" stroke="#00f" stroke-width="1.35" fill="none"/>
<circle cx="274.0" cy="307.0" r="3.65" stroke="#00f" stroke-width="1.35" fill="none"/>
<circle cx="277.0" cy="305.0" r="3.65" stroke="#00f" stroke-width="1.35" fill="none"/>
<circle cx="280.0" cy="304.0" r="3.65" stroke="#00f" stroke-width="1.35" fill="none"/>
<circle cx="283.0" cy="303.0" r="3.65" stroke="#00f" stroke-width="1.35" fill="none"/>
<circle cx="286.0" cy="302.0" r="3.65" stroke="#00f" stroke-width="1.35" fill="none"/>
<circle cx="289.0" cy="298.0" r="3.65" stroke="#00f" stroke-width="1.35" fill="none"/>
<circle cx="292.0" cy="290.0" r="3.65" stroke="#00f" stroke-width="1.35" fill="none"/>
<circle cx="295.0" cy="291.0" r="3.65" stroke="#00f" stroke-width="1.35" fill="none"/>
<circle cx="221.0" cy="189.0" r="3.65" stroke="#00f" stroke-width="1.35" fill="none"/>
<circle cx="236.0" cy="225.0" r="3.65" stroke="#00f" stroke-width="1.35" fill="none"/>
<circle cx="232.7" cy="230.6" r="3.65" stroke="#00f" stroke-width="1.35" fill="none"/>
<circle cx="229.5" cy="234.6" r="3.65" stroke="#00f" stroke-width="1.35" fill="none"/>
<circle cx="227.0" cy="238.6" r="3.65" stroke="#00f" stroke-width="1.35" fill="none"/>
<circle cx="227.0" cy="241.0" r="3.65" stroke="#00f" stroke-width="1.35" fill="none"/>
<circle cx="239.0" cy="228.0" r="3.65" stroke="#00f" stroke-width="1.35" fill="none"/>
<circle cx="242.0" cy="227.0" r="3.65" stroke="#00f" stroke-width="1.35" fill="none"/>
<circle cx="245.0" cy="222.0" r="3.65" stroke="#00f" stroke-width="1.35" fill="none"/>
<circle cx="248.0" cy="216.0" r="3.65" stroke="#00f" stroke-width="1.35" fill="none"/>
<circle cx="250.0" cy="209.0" r="3.65" stroke="#00f" stroke-width="1.35" fill="none"/>
<circle cx="253.0" cy="205.0" r="3.65" stroke="#00f" stroke-width="1.35" fill="none"/>
<circle cx="256.0" cy="204.0" r="3.65" stroke="#00f" stroke-width="1.35" fill="none"/>
<circle cx="259.0" cy="202.0" r="3.65" stroke="#00f" stroke-width="1.35" fill="none"/>
<circle cx="262.0" cy="199.0" r="3.65" stroke="#00f" stroke-width="1.35" fill="none"/>
<circle cx="265.0" cy="197.0" r="3.65" stroke="#00f" stroke-width="1.35" fill="none"/>
<circle cx="268.0" cy="196.0" r="3.65" stroke="#00f" stroke-width="1.35" fill="none"/>
<circle cx="269.0" cy="188.0" r="3.65" stroke="#00f" stroke-width="1.35" fill="none"/>
<circle cx="286.0" cy="181.0" r="3.65" stroke="#00f" stroke-width="1.35" fill="none"/>
<circle cx="290.0" cy="180.0" r="3.65" stroke="#00f" stroke-width="1.35" fill="none"/>
<circle cx="292.0" cy="200.0" r="3.65" stroke="#00f" stroke-width="1.35" fill="none"/>
<circle cx="295.0" cy="195.0" r="3.65" stroke="#00f" stroke-width="1.35" fill="none"/>
<circle cx="284.0" cy="174.0" r="3.65" stroke="#00f" stroke-width="1.35" fill="none"/>
<circle cx="288.0" cy="177.0" r="3.65" stroke="#00f" stroke-width="1.35" fill="none"/>
<circle cx="297.0" cy="292.0" r="3.65" stroke="#00f" stroke-width="1.35" fill="none"/>
<circle cx="299.3" cy="289.0" r="3.65" stroke="#00f" stroke-width="1.35" fill="none"/>
<circle cx="301.8" cy="286.2" r="3.65" stroke="#00f" stroke-width="1.35" fill="none"/>
<circle cx="304.0" cy="283.1" r="3.65" stroke="#00f" stroke-width="1.35" fill="none"/>
<circle cx="306.2" cy="280.2" r="3.65" stroke="#00f" stroke-width="1.35" fill="none"/>
<circle cx="309.2" cy="277.8" r="3.65" stroke="#00f" stroke-width="1.35" fill="none"/>
<circle cx="311.9" cy="275.1" r="3.65" stroke="#00f" stroke-width="1.35" fill="none"/>
<circle cx="314.8" cy="272.7" r="3.65" stroke="#00f" stroke-width="1.35" fill="none"/>
<circle cx="318.4" cy="271.5" r="3.65" stroke="#00f" stroke-width="1.35" fill="none"/>
<circle cx="322.0" cy="270.3" r="3.65" stroke="#00f" stroke-width="1.35" fill="none"/>
<circle cx="325.6" cy="269.1" r="3.65" stroke="#00f" stroke-width="1.35" fill="none"/>
<circle cx="328.9" cy="267.3" r="3.65" stroke="#00f" stroke-width="1.35" fill="none"/>
<circle cx="333.0" cy="253.0" r="3.65" stroke="#00f" stroke-width="1.35" fill="none"/>
<circle cx="337.0" cy="256.0" r="3.65" stroke="#00f" stroke-width="1.35" fill="none"/>
<circle cx="340.0" cy="268.0" r="3.65" stroke="#00f" stroke-width="1.35" fill="none"/>
<circle cx="343.0" cy="271.0" r="3.65" stroke="#00f" stroke-width="1.35" fill="none"/>
<circle cx="346.0" cy="275.0" r="3.65" stroke="#00f" stroke-width="1.35" fill="none"/>
<circle cx="350.0" cy="277.0" r="3.65" stroke="#00f" stroke-width="1.35" fill="none"/>
<circle cx="353.0" cy="287.0" r="3.65" stroke="#00f" stroke-width="1.35" fill="none"/>
<circle cx="356.0" cy="303.0" r="3.65" stroke="#00f" stroke-width="1.35" fill="none"/>
<circle cx="359.0" cy="319.0" r="3.65" stroke="#00f" stroke-width="1.35" fill="none"/>
<circle cx="362.0" cy="321.0" r="3.65" stroke="#00f" stroke-width="1.35" fill="none"/>
<circle cx="365.0" cy="325.0" r="3.65" stroke="#00f" stroke-width="1.35" fill="none"/>
<circle cx="368.0" cy="323.0" r="3.65" stroke="#00f" stroke-width="1.35" fill="none"/>
<circle cx="371.0" cy="326.0" r="3.65" stroke="#00f" stroke-width="1.35" fill="none"/>
<circle cx="374.0" cy="335.0" r="3.65" stroke="#00f" stroke-width="1.35" fill="none"/>
<circle cx="377.0" cy="334.0" r="3.65" stroke="#00f" stroke-width="1.35" fill="none"/>
<circle cx="380.0" cy="321.0" r="3.65" stroke="#00f" stroke-width="1.35" fill="none"/>
<circle cx="383.0" cy="307.0" r="3.65" stroke="#00f" stroke-width="1.35" fill="none"/>
<circle cx="386.0" cy="291.0" r="3.65" stroke="#00f" stroke-width="1.35" fill="none"/>
<circle cx="389.0" cy="284.0" r="3.65" stroke="#00f" stroke-width="1.35" fill="none"/>
<circle cx="392.0" cy="279.0" r="3.65" stroke="#00f" stroke-width="1.35" fill="none"/>
<circle cx="395.0" cy="275.0" r="3.65" stroke="#00f" stroke-width="1.35" fill="none"/>
<circle cx="398.0" cy="272.0" r="3.65" stroke="#00f" stroke-width="1.35" fill="none"/>
<circle cx="401.0" cy="270.0" r="3.65" stroke="#00f" stroke-width="1.35" fill="none"/>
<circle cx="404.0" cy="268.0" r="3.65" stroke="#00f" stroke-width="1.35" fill="none"/>
<circle cx="297.0" cy="196.0" r="3.65" stroke="#00f" stroke-width="1.35" fill="none"/>
<circle cx="296.0" cy="200.0" r="3.65" stroke="#00f" stroke-width="1.35" fill="none"/>
<circle cx="314.0" cy="191.6" r="3.65" stroke="#00f" stroke-width="1.35" fill="none"/>
<circle cx="317.0" cy="195.6" r="3.65" stroke="#00f" stroke-width="1.35" fill="none"/>
<circle cx="311.0" cy="200.0" r="3.65" stroke="#00f" stroke-width="1.35" fill="none"/>
<circle cx="308.0" cy="208.0" r="3.65" stroke="#00f" stroke-width="1.35" fill="none"/>
<circle cx="320.0" cy="207.0" r="3.65" stroke="#00f" stroke-width="1.35" fill="none"/>
<circle cx="323.0" cy="203.6" r="3.65" stroke="#00f" stroke-width="1.35" fill="none"/>
<circle cx="326.0" cy="201.0" r="3.65" stroke="#00f" stroke-width="1.35" fill="none"/>
<circle cx="332.0" cy="199.0" r="3.65" stroke="#00f" stroke-width="1.35" fill="none"/>
<circle cx="329.0" cy="211.0" r="3.65" stroke="#00f" stroke-width="1.35" fill="none"/>
<circle cx="299.0" cy="217.0" r="3.65" stroke="#00f" stroke-width="1.35" fill="none"/>
<circle cx="302.0" cy="220.0" r="3.65" stroke="#00f" stroke-width="1.35" fill="none"/>
<circle cx="305.0" cy="219.6" r="3.65" stroke="#00f" stroke-width="1.35" fill="none"/>
<circle cx="334.0" cy="222.0" r="3.65" stroke="#00f" stroke-width="1.35" fill="none"/>
<circle cx="337.0" cy="225.0" r="3.65" stroke="#00f" stroke-width="1.35" fill="none"/>
<circle cx="341.0" cy="231.6" r="3.65" stroke="#00f" stroke-width="1.35" fill="none"/>
<circle cx="344.0" cy="226.4" r="3.65" stroke="#00f" stroke-width="1.35" fill="none"/>
<circle cx="347.0" cy="229.0" r="3.65" stroke="#00f" stroke-width="1.35" fill="none"/>
<circle cx="350.0" cy="229.5" r="3.65" stroke="#00f" stroke-width="1.35" fill="none"/>
<circle cx="353.0" cy="233.0" r="3.65" stroke="#00f" stroke-width="1.35" fill="none"/>
<circle cx="356.0" cy="235.0" r="3.65" stroke="#00f" stroke-width="1.35" fill="none"/>
<circle cx="359.0" cy="235.5" r="3.65" stroke="#00f" stroke-width="1.35" fill="none"/>
<circle cx="362.0" cy="235.0" r="3.65" stroke="#00f" stroke-width="1.35" fill="none"/>
<circle cx="365.0" cy="240.0" r="3.65" stroke="#00f" stroke-width="1.35" fill="none"/>
<circle cx="368.0" cy="251.0" r="3.65" stroke="#00f" stroke-width="1.35" fill="none"/>
<circle cx="371.0" cy="257.0" r="3.65" stroke="#00f" stroke-width="1.35" fill="none"/>
<circle cx="374.0" cy="262.0" r="3.65" stroke="#00f" stroke-width="1.35" fill="none"/>
<circle cx="377.0" cy="261.5" r="3.65" stroke="#00f" stroke-width="1.35" fill="none"/>
<circle cx="380.0" cy="260.0" r="3.65" stroke="#00f" stroke-width="1.35" fill="none"/>
<circle cx="383.0" cy="255.0" r="3.65" stroke="#00f" stroke-width="1.35" fill="none"/>
<circle cx="385.5" cy="242.7" r="3.65" stroke="#00f" stroke-width="1.35" fill="none"/>
<circle cx="389.1" cy="230.9" r="3.65" stroke="#00f" stroke-width="1.35" fill="none"/>
<circle cx="391.8" cy="222.7" r="3.65" stroke="#00f" stroke-width="1.35" fill="none"/>
<circle cx="395.0" cy="218.0" r="3.65" stroke="#00f" stroke-width="1.35" fill="none"/>
<circle cx="397.0" cy="216.0" r="3.65" stroke="#00f" stroke-width="1.35" fill="none"/>
<circle cx="400.0" cy="213.0" r="3.65" stroke="#00f" stroke-width="1.35" fill="none"/>
<circle cx="403.0" cy="211.0" r="3.65" stroke="#00f" stroke-width="1.35" fill="none"/>
<circle cx="437.0" cy="183.6" r="3.65" stroke="#00f" stroke-width="1.35" fill="none"/>
<circle cx="446.0" cy="186.6" r="3.65" stroke="#00f" stroke-width="1.35" fill="none"/>
<circle cx="413.0" cy="199.0" r="3.65" stroke="#00f" stroke-width="1.35" fill="none"/>
<circle cx="419.0" cy="207.6" r="3.65" stroke="#00f" stroke-width="1.35" fill="none"/>
<circle cx="422.0" cy="205.0" r="3.65" stroke="#00f" stroke-width="1.35" fill="none"/>
<circle cx="425.0" cy="203.6" r="3.65" stroke="#00f" stroke-width="1.35" fill="none"/>
<circle cx="406.0" cy="211.6" r="3.65" stroke="#00f" stroke-width="1.35" fill="none"/>
<circle cx="410.0" cy="215.0" r="3.65" stroke="#00f" stroke-width="1.35" fill="none"/>
<circle cx="440.0" cy="204.0" r="3.65" stroke="#00f" stroke-width="1.35" fill="none"/>
<circle cx="449.0" cy="207.0" r="3.65" stroke="#00f" stroke-width="1.35" fill="none"/>
<circle cx="458.0" cy="193.0" r="3.65" stroke="#00f" stroke-width="1.35" fill="none"/>
<circle cx="467.0" cy="200.0" r="3.65" stroke="#00f" stroke-width="1.35" fill="none"/>
<circle cx="476.0" cy="184.0" r="3.65" stroke="#00f" stroke-width="1.35" fill="none"/>
<circle cx="443.0" cy="226.0" r="3.65" stroke="#00f" stroke-width="1.35" fill="none"/>
<circle cx="416.0" cy="237.6" r="3.65" stroke="#00f" stroke-width="1.35" fill="none"/>
<circle cx="473.0" cy="237.0" r="3.65" stroke="#00f" stroke-width="1.35" fill="none"/>
<circle cx="506.0" cy="241.6" r="3.65" stroke="#00f" stroke-width="1.35" fill="none"/>
<circle cx="503.0" cy="248.4" r="3.65" stroke="#00f" stroke-width="1.35" fill="none"/>
<circle cx="512.0" cy="249.0" r="3.65" stroke="#00f" stroke-width="1.35" fill="none"/>
<circle cx="464.0" cy="177.0" r="3.65" stroke="#00f" stroke-width="1.35" fill="none"/>
<circle cx="470.0" cy="172.0" r="3.65" stroke="#00f" stroke-width="1.35" fill="none"/>
<circle cx="476.0" cy="178.0" r="3.65" stroke="#00f" stroke-width="1.35" fill="none"/>
<circle cx="479.0" cy="176.0" r="3.65" stroke="#00f" stroke-width="1.35" fill="none"/>
<circle cx="482.0" cy="176.0" r="3.65" stroke="#00f" stroke-width="1.35" fill="none"/>
<circle cx="485.0" cy="197.0" r="3.65" stroke="#00f" stroke-width="1.35" fill="none"/>
<circle cx="488.0" cy="196.0" r="3.65" stroke="#00f" stroke-width="1.35" fill="none"/>
<circle cx="490.0" cy="190.0" r="3.65" stroke="#00f" stroke-width="1.35" fill="none"/>
<circle cx="494.0" cy="190.0" r="3.65" stroke="#00f" stroke-width="1.35" fill="none"/>
<circle cx="497.0" cy="189.0" r="3.65" stroke="#00f" stroke-width="1.35" fill="none"/>
<circle cx="500.0" cy="189.0" r="3.65" stroke="#00f" stroke-width="1.35" fill="none"/>
<circle cx="502.0" cy="183.0" r="3.65" stroke="#00f" stroke-width="1.35" fill="none"/>
<circle cx="506.0" cy="181.0" r="3.65" stroke="#00f" stroke-width="1.35" fill="none"/>
<circle cx="509.0" cy="193.0" r="3.65" stroke="#00f" stroke-width="1.35" fill="none"/>
<circle cx="512.0" cy="186.0" r="3.65" stroke="#00f" stroke-width="1.35" fill="none"/>
<circle cx="515.0" cy="189.0" r="3.65" stroke="#00f" stroke-width="1.35" fill="none"/>
<circle cx="518.0" cy="192.0" r="3.65" stroke="#00f" stroke-width="1.35" fill="none"/>
<circle cx="522.0" cy="190.0" r="3.65" stroke="#00f" stroke-width="1.35" fill="none"/>
<circle cx="525.0" cy="186.0" r="3.65" stroke="#00f" stroke-width="1.35" fill="none"/>
<circle cx="528.0" cy="184.0" r="3.65" stroke="#00f" stroke-width="1.35" fill="none"/>
<circle cx="532.0" cy="178.0" r="3.65" stroke="#00f" stroke-width="1.35" fill="none"/>
<circle cx="535.0" cy="184.0" r="3.65" stroke="#00f" stroke-width="1.35" fill="none"/>
<circle cx="538.0" cy="177.0" r="3.65" stroke="#00f" stroke-width="1.35" fill="none"/>
<circle cx="542.0" cy="192.0" r="3.65" stroke="#00f" stroke-width="1.35" fill="none"/>
<circle cx="413.0" cy="257.6" r="3.65" stroke="#00f" stroke-width="1.35" fill="none"/>
<circle cx="434.0" cy="257.6" r="3.65" stroke="#00f" stroke-width="1.35" fill="none"/>
<circle cx="406.0" cy="265.0" r="3.65" stroke="#00f" stroke-width="1.35" fill="none"/>
<circle cx="410.0" cy="267.0" r="3.65" stroke="#00f" stroke-width="1.35" fill="none"/>
<circle cx="418.0" cy="264.0" r="3.65" stroke="#00f" stroke-width="1.35" fill="none"/>
<circle cx="422.0" cy="269.0" r="3.65" stroke="#00f" stroke-width="1.35" fill="none"/>
<circle cx="425.0" cy="266.0" r="3.65" stroke="#00f" stroke-width="1.35" fill="none"/>
<circle cx="428.0" cy="267.0" r="3.65" stroke="#00f" stroke-width="1.35" fill="none"/>
<circle cx="431.0" cy="265.6" r="3.65" stroke="#00f" stroke-width="1.35" fill="none"/>
<circle cx="437.0" cy="273.6" r="3.65" stroke="#00f" stroke-width="1.35" fill="none"/>
<circle cx="479.0" cy="257.6" r="3.65" stroke="#00f" stroke-width="1.35" fill="none"/>
<circle cx="482.0" cy="257.0" r="3.65" stroke="#00f" stroke-width="1.35" fill="none"/>
<circle cx="500.0" cy="270.0" r="3.65" stroke="#00f" stroke-width="1.35" fill="none"/>
<circle cx="470.0" cy="282.0" r="3.65" stroke="#00f" stroke-width="1.35" fill="none"/>
<circle cx="476.0" cy="282.0" r="3.65" stroke="#00f" stroke-width="1.35" fill="none"/>
<circle cx="491.0" cy="287.0" r="3.65" stroke="#00f" stroke-width="1.35" fill="none"/>
<circle cx="488.0" cy="290.0" r="3.65" stroke="#00f" stroke-width="1.35" fill="none"/>
<circle cx="485.0" cy="293.0" r="3.65" stroke="#00f" stroke-width="1.35" fill="none"/>
<circle cx="494.0" cy="294.0" r="3.65" stroke="#00f" stroke-width="1.35" fill="none"/>
<circle cx="497.0" cy="289.0" r="3.65" stroke="#00f" stroke-width="1.35" fill="none"/>
<circle cx="452.0" cy="300.0" r="3.65" stroke="#00f" stroke-width="1.35" fill="none"/>
<circle cx="455.0" cy="308.0" r="3.65" stroke="#00f" stroke-width="1.35" fill="none"/>
<circle cx="415.6" cy="314.0" r="3.65" stroke="#00f" stroke-width="1.35" fill="none"/>
<circle cx="461.0" cy="331.0" r="3.65" stroke="#00f" stroke-width="1.35" fill="none"/>
<circle cx="464.0" cy="339.0" r="3.65" stroke="#00f" stroke-width="1.35" fill="none"/>
<circle cx="446.0" cy="343.0" r="3.65" stroke="#00f" stroke-width="1.35" fill="none"/>
<circle cx="449.0" cy="349.4" r="3.65" stroke="#00f" stroke-width="1.35" fill="none"/>
<circle cx="533.0" cy="286.5" r="3.65" stroke="#00f" stroke-width="1.35" fill="none"/>
<circle cx="538.5" cy="258.2" r="3.65" stroke="#00f" stroke-width="1.35" fill="none"/>
<circle cx="526.6" cy="332.2" r="3.65" stroke="#00f" stroke-width="1.35" fill="none"/>
<circle cx="530.2" cy="338.5" r="3.65" stroke="#00f" stroke-width="1.35" fill="none"/>
<circle cx="535.8" cy="354.3" r="3.65" stroke="#00f" stroke-width="1.35" fill="none"/>
<circle cx="452.0" cy="129.6" r="3.65" stroke="#00f" stroke-width="1.35" fill="none"/>
<circle cx="473.0" cy="136.6" r="3.65" stroke="#00f" stroke-width="1.35" fill="none"/>
<circle cx="434.0" cy="151.0" r="3.65" stroke="#00f" stroke-width="1.35" fill="none"/>
<circle cx="455.0" cy="157.0" r="3.65" stroke="#00f" stroke-width="1.35" fill="none"/>
<circle cx="428.0" cy="165.0" r="3.65" stroke="#00f" stroke-width="1.35" fill="none"/>
<circle cx="461.0" cy="164.0" r="3.65" stroke="#00f" stroke-width="1.35" fill="none"/>
<circle cx="431.0" cy="177.0" r="3.65" stroke="#00f" stroke-width="1.35" fill="none"/>
<circle cx="505.0" cy="179.6" r="3.65" stroke="#00f" stroke-width="1.35" fill="none"/>
<circle cx="521.0" cy="105.4" r="3.65" stroke="#00f" stroke-width="1.35" fill="none"/>
<circle cx="524.6" cy="104.4" r="3.65" stroke="#00f" stroke-width="1.35" fill="none"/>
<circle cx="446.0" cy="20.4" r="3.65" stroke="#00f" stroke-width="1.35" fill="none"/>
<circle cx="449.0" cy="20.4" r="3.65" stroke="#00f" stroke-width="1.35" fill="none"/>
<circle cx="458.0" cy="12.0" r="3.65" stroke="#00f" stroke-width="1.35" fill="none"/>
<circle cx="440.0" cy="35.0" r="3.65" stroke="#00f" stroke-width="1.35" fill="none"/>
<circle cx="443.0" cy="44.0" r="3.65" stroke="#00f" stroke-width="1.35" fill="none"/>
<circle cx="536.0" cy="38.0" r="3.65" stroke="#00f" stroke-width="1.35" fill="none"/>
<circle cx="518.0" cy="57.0" r="3.65" stroke="#00f" stroke-width="1.35" fill="none"/>
<circle cx="542.0" cy="75.6" r="3.65" stroke="#00f" stroke-width="1.35" fill="none"/>
<circle cx="509.0" cy="89.0" r="3.65" stroke="#00f" stroke-width="1.35" fill="none"/>
<path d="M102.75,373.3V368.3M102.75,11.7V16.7M151.84,373.3V368.3M151.84,11.7V16.7M200.94,373.3V368.3M200.94,11.7V16.7M250.03,373.3V368.3M250.03,11.7V16.7M299.13,373.3V368.3M299.13,11.7V16.7M348.22,373.3V368.3M348.22,11.7V16.7M397.32,373.3V368.3M397.32,11.7V16.7M446.41,373.3V368.3M446.41,11.7V16.7M495.51,373.3V368.3M495.51,11.7V16.7M78.2,313.03H83.2M544.6,313.03H539.6M78.2,252.77H83.2M544.6,252.77H539.6M78.2,192.50H83.2M544.6,192.50H539.6M78.2,132.23H83.2M544.6,132.23H539.6M78.2,71.97H83.2M544.6,71.97H539.6" stroke="#262626" stroke-width="1.3" fill="none"/>
<rect x="78.2" y="11.7" width="466.40" height="361.60" fill="none" stroke="#262626" stroke-width="1.6"/>
<rect x="95.7" y="25.2" width="121" height="64" fill="#fff" stroke="#262626" stroke-width="1.3"/>
<path d="M118.2,39.7L123.8,45.3M118.2,45.3L123.8,39.7" stroke="#f00" stroke-width="1.2"/>
<circle cx="121" cy="71.5" r="3.65" stroke="#00f" stroke-width="1.35" fill="none"/>
<text x="150.3" y="45.5" class="lg"><tspan font-style="italic">N</tspan><tspan font-size="14.6" dx="1.3" dy="8.6">sub</tspan><tspan dy="-8.6">=5</tspan></text>
<text x="150.3" y="74.4" class="lg"><tspan font-style="italic">N</tspan><tspan font-size="14.6" dx="1.3" dy="8.6">sub</tspan><tspan dy="-8.6">=26</tspan></text>
<text x="102.75" y="398.1" class="tl" text-anchor="middle">0.2</text>
<text x="151.84" y="398.1" class="tl" text-anchor="middle">0.4</text>
<text x="200.94" y="398.1" class="tl" text-anchor="middle">0.6</text>
<text x="250.03" y="398.1" class="tl" text-anchor="middle">0.8</text>
<text x="299.13" y="398.1" class="tl" text-anchor="middle">1</text>
<text x="348.22" y="398.1" class="tl" text-anchor="middle">1.2</text>
<text x="397.32" y="398.1" class="tl" text-anchor="middle">1.4</text>
<text x="446.41" y="398.1" class="tl" text-anchor="middle">1.6</text>
<text x="495.51" y="398.1" class="tl" text-anchor="middle">1.8</text>
<text x="71.5" y="380.20" class="tl" text-anchor="end">0</text>
<text x="71.5" y="319.93" class="tl" text-anchor="end">1000</text>
<text x="71.5" y="259.67" class="tl" text-anchor="end">2000</text>
<text x="71.5" y="199.40" class="tl" text-anchor="end">3000</text>
<text x="71.5" y="139.13" class="tl" text-anchor="end">4000</text>
<text x="71.5" y="78.87" class="tl" text-anchor="end">5000</text>
<text x="71.5" y="18.60" class="tl" text-anchor="end">6000</text>
<text x="310.2" y="424.3" class="tl" style="font-size:22px" text-anchor="middle">Frequency(MHz)</text>
<text transform="translate(22.3,194.3) rotate(-90)" class="tl" style="font-size:22px" text-anchor="middle">Wavenumber(rad/m)</text>
</svg>
</body></html>
